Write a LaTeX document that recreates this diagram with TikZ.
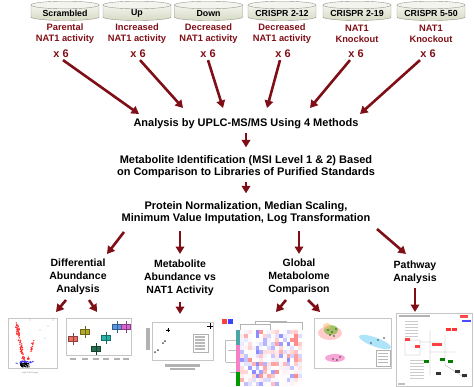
\documentclass[tikz,border=0pt]{standalone}
\usepackage{fontspec}
\setmainfont{Liberation Sans}
\usetikzlibrary{arrows.meta,positioning}

\definecolor{darkred}{RGB}{128,14,22}
\definecolor{dishtop}{RGB}{244,244,238}
\definecolor{dishlow}{RGB}{214,218,196}
\definecolor{dishline}{RGB}{150,150,140}
\definecolor{boxa}{RGB}{235,110,100}
\definecolor{boxb}{RGB}{180,170,40}
\definecolor{boxc}{RGB}{40,110,80}
\definecolor{boxd}{RGB}{40,180,170}
\definecolor{boxe}{RGB}{90,150,230}
\definecolor{boxf}{RGB}{220,100,210}

\begin{document}
\begin{tikzpicture}[x=1pt,y=-1pt,
  bigarrow/.style={draw=darkred, line width=2.6pt, -{Triangle[length=7.5pt,width=8.5pt]}},
  redtxt/.style={text=darkred, font=\fontsize{9.3}{11}\selectfont\bfseries, align=center, inner sep=1pt},
  sixtxt/.style={text=darkred, font=\fontsize{11}{12}\selectfont\bfseries, inner sep=1.5pt},
  dishtxt/.style={font=\fontsize{8.8}{9}\selectfont\bfseries, inner sep=1pt},
  steptxt/.style={font=\fontsize{11}{11.6}\selectfont\bfseries, align=center, inner sep=2pt},
  outtxt/.style={font=\fontsize{10.5}{13}\selectfont\bfseries, align=center, inner sep=2pt},
  thumb/.style={draw=gray!45, fill=white, line width=0.3pt}]

\useasboundingbox (0,0) rectangle (474,386);

% dishes
\foreach \cx in {65,137,208.5,282,357,431} {
  \shade[top color=dishtop, bottom color=dishlow, draw=dishline, line width=0.4pt]
    (\cx-34,5) -- (\cx-34,17) arc[start angle=180, end angle=0, x radius=34, y radius=3.5] -- (\cx+34,5) -- cycle;
  \filldraw[fill=dishtop, draw=dishline, line width=0.4pt] (\cx,5) circle[x radius=34, y radius=3.8];
}

\node [dishtxt] (scr) at (65,13.5) {Scrambled};
\node [dishtxt] (up) at (137,13.5) {Up};
\node [dishtxt] (down) at (208.5,13.5) {Down};
\node [dishtxt] (c212) at (282,13.5) {CRISPR 2-12};
\node [dishtxt] (c219) at (357,13.5) {CRISPR 2-19};
\node [dishtxt] (c550) at (431,13.5) {CRISPR 5-50};

\node [redtxt] (scrt) at (65,33.5) {Parental\\NAT1 activity};
\node [redtxt] (upt) at (137,33.5) {Increased\\NAT1 activity};
\node [redtxt] (downt) at (208.5,33.5) {Decreased\\NAT1 activity};
\node [redtxt] (c212t) at (282,33.5) {Decreased\\NAT1 activity};
\node [redtxt] (c219t) at (357,33.5) {NAT1\\Knockout};
\node [redtxt] (c550t) at (431,33.5) {NAT1\\Knockout};

\node [sixtxt] (scrx) at (61,53.5) {x 6};
\node [sixtxt] (upx) at (138,53.5) {x 6};
\node [sixtxt] (downx) at (208,53.5) {x 6};
\node [sixtxt] (c212x) at (283,53.5) {x 6};
\node [sixtxt] (c219x) at (356,53.5) {x 6};
\node [sixtxt] (c550x) at (428,53.5) {x 6};

% workflow steps
\node [steptxt] (ana) at (246,124) {Analysis by UPLC-MS/MS Using 4 Methods};
\node [steptxt] (ident) at (246,166.5) {Metabolite Identification (MSI Level 1 \& 2) Based\\on Comparison to Libraries of Purified Standards};
\node [steptxt] (norm) at (246,212.5) {Protein Normalization, Median Scaling,\\Minimum Value Imputation, Log Transformation};

\node [outtxt] (diff) at (78,277) {Differential\\Abundance\\Analysis};
\node [outtxt] (vsact) at (180,278) {Metabolite\\Abundance vs\\NAT1 Activity};
\node [outtxt] (glob) at (299,277) {Global\\Metabolome\\Comparison};
\node [outtxt] (path) at (415,272.5) {Pathway\\Analysis};

% arrow ends
\coordinate (a1) at (139,114);
\coordinate (a2) at (183,108);
\coordinate (a3) at (223,108);
\coordinate (a4) at (267,108);
\coordinate (a5) at (310,108);
\coordinate (a6) at (360,114);

\draw [bigarrow] (scrx.south) ++(2,1) -- (a1);
\draw [bigarrow] (upx.south) ++(2,1) -- (a2);
\draw [bigarrow] (downx.south) ++(0,1) -- (a3);
\draw [bigarrow] (c212x.south) ++(-3,1) -- (a4);
\draw [bigarrow] (c219x.south) ++(-6,1) -- (a5);
\draw [bigarrow] (c550x.south) ++(-8,1) -- (a6);

\draw [bigarrow, shorten <=2pt, shorten >=6pt] (ana.south) -- (ident.north);
\draw [bigarrow, shorten <=2pt, shorten >=6pt] (ident.south) -- (norm.north);

\coordinate (n1) at (124,232);
\coordinate (n2) at (180,231);
\coordinate (n3) at (299,231);
\coordinate (n4) at (377,229);
\coordinate (o1) at (107,254);
\coordinate (o4) at (406,254);
\draw [bigarrow] (n1) -- (o1);
\draw [bigarrow] (n2) -- (n2 |- o1);
\draw [bigarrow] (n3) -- (n3 |- o1);
\draw [bigarrow] (n4) -- (o4);

\coordinate (v0) at (66,300);  \coordinate (v1) at (56,312);
\coordinate (b0) at (89,300);  \coordinate (b1) at (97,312);
\coordinate (s0) at (180,302); \coordinate (s1) at (180,314);
\coordinate (h0) at (286,300); \coordinate (h1) at (276,312);
\coordinate (p0) at (308,300); \coordinate (p1) at (320,312);
\coordinate (m0) at (415,288); \coordinate (m1) at (415,312);
\draw [bigarrow] (v0) -- (v1);
\draw [bigarrow] (b0) -- (b1);
\draw [bigarrow] (s0) -- (s1);
\draw [bigarrow] (h0) -- (h1);
\draw [bigarrow] (p0) -- (p1);
\draw [bigarrow] (m0) -- (m1);

% volcano plot
\pgfmathsetseed{7}
\draw [thumb] (8,318) rectangle (57,368);
\foreach \k in {1,...,70} {
  \pgfmathsetmacro\t{rnd}
  \fill [red!85] (22-7*\t+3*rnd,360-38*\t+3*rnd) circle (0.75);
}
\foreach \k in {1,...,20} {
  \pgfmathsetmacro\t{rnd}
  \fill [red!85] (27+6*\t+2*rnd,360-22*\t+3*rnd) circle (0.75);
}
\foreach \k in {1,...,30} \fill [blue!80] (16+18*rnd,361+3*rnd) circle (0.7);
\foreach \k in {1,...,45} \fill [black] (20+9*rnd,363+4*rnd) circle (0.7);
\foreach \p in {(40,330),(48,326),(53,320),(30,320),(45,338)} \fill [gray!60] \p circle (0.6);
\node [font=\fontsize{2}{2}\selectfont, text=gray] (volx) at (30,373) {Log2 Fold Change};

% box plot
\draw [thumb] (66,318) rectangle (131,355);
\foreach \bx/\by/\bc in {73/339/boxa, 85/332/boxb, 96/349/boxc, 106/338/boxd, 117/327/boxe, 126/327/boxf} {
  \filldraw [fill=\bc, draw=\bc!60!black, line width=0.2pt] (\bx-4.5,\by-2.5) rectangle (\bx+4.5,\by+2.5);
  \draw [\bc!60!black, line width=0.2pt] (\bx,\by-6) -- (\bx,\by+6);
}
\foreach \bx in {73,85,96,106,117,126} \fill [gray!60] (\bx-3,358) rectangle (\bx+3,360);

% activity scatter
\draw [thumb] (152,322) rectangle (213,360);
\fill [gray!60] (146,328) rectangle (150,350);
\fill [gray!60] (165,364) rectangle (200,366.5);
\fill [gray!60] (170,368) rectangle (195,370);
\draw [gray!60, line width=0.4pt] (193,334) rectangle (208,352);
\foreach \ly in {337,340,343,346,349} \fill [gray!55] (195,\ly-0.6) rectangle (205,\ly+0.6);
\foreach \p in {(155,352),(158,350),(163,343),(165,341),(168,330)} \fill [black!70] \p circle (1);
\draw [black, line width=0.5pt] (207,326) -- (213,326) (210,323) -- (210,329);
\draw [black, line width=0.5pt] (166,330) -- (170,330) (168,328) -- (168,332);

% heatmap
\fill [red!75] (222,319) rectangle (227,324);
\fill [blue!75] (228,319) rectangle (233,324);
\draw [gray!60, line width=0.2pt] (240,330) -- (240,324) -- (270,324) -- (270,330) (270,322) -- (302,322) -- (302,330) (255,324) -- (255,321) -- (286,321) -- (286,322);
\draw [gray!50, line width=0.2pt] (225,340) -- (236,340) (228,350) -- (236,350) (226,362) -- (236,362) (230,372) -- (236,372) (225,340) -- (225,362);
\fill [teal!70] (236,330) rectangle (240,345);
\fill [magenta!50] (236,345) rectangle (240,372);
\fill [green!60!black] (236,372) rectangle (240,386);
\foreach \i in {0,...,15} {
  \foreach \j in {0,...,13} {
    \pgfmathsetmacro\v{2*rnd-1+(\i==4)*(-0.7)+(\i==14)*0.7}
    \pgfmathsetmacro\a{min(abs(\v),1)^2*45}
    \ifdim\v pt>0pt \def\hc{red}\else\def\hc{blue}\fi
    \fill [\hc!\a!white] (240+3.875*\i,330+4*\j) rectangle (240+3.875*\i+3.875,334+4*\j);
  }
}

% PCA plot
\draw [thumb] (314,318) rectangle (391,368);
\fill [red!25, opacity=0.8] (330,333) circle[x radius=12, y radius=7];
\fill [green!45!olive, opacity=0.5] (331,330) circle[x radius=7, y radius=5];
\fill [orange!50, opacity=0.6] (327,326) circle[x radius=4, y radius=3];
\fill [cyan!35, opacity=0.9, rotate around={-20:(375,342)}] (375,342) circle[x radius=17, y radius=4.5];
\fill [magenta!35] (335,358) circle[x radius=10, y radius=4];
\foreach \p in {(328,330),(332,332),(336,329),(330,335),(334,336),(371,343),(378,340),(384,338),(340,357),(333,359),(337,360)} \fill [black!75] \p circle (0.9);
\draw [gray!60, line width=0.3pt] (376,350) rectangle (390,366);
\foreach \ly in {353,356,359,362} \fill [gray!55] (378,\ly-0.5) rectangle (388,\ly+0.5);

% pathway map
\draw [thumb] (396,313) rectangle (472,386);
\fill [gray!60] (399,315) rectangle (430,317);
\fill [red!70] (460,315) rectangle (468,318);
\fill [blue!70] (462,320) rectangle (471,322);
\foreach \ry in {321,324,327,330,333,336} \fill [gray!40] (405,\ry) rectangle (418,\ry+1);
\foreach \ry in {360,363,366,369,372,375,378} \fill [gray!40] (410,\ry) rectangle (424,\ry+1);
\draw [gray!70, line width=0.3pt] (405,340) rectangle (420,355) (420,342) -- (440,342) (430,330) -- (430,375) (430,352) -- (455,352) (445,335) -- (445,365) (445,365) -- (465,378);
\foreach \p/\pc in {(405,338)/red!75, (415,345)/red!75, (432,343)/red!75, (437,343)/red!75, (446,328)/red!80, (452,328)/red!80, (440,358)/green!50!black, (448,360)/green!50!black, (455,370)/black!80, (436,372)/black!80, (462,374)/black!80, (424,360)/green!50!black}
  \fill [\pc] \p rectangle ++(5,2.5);
\fill [gray!50] (398,383) rectangle (405,385);

\end{tikzpicture}
\end{document}
